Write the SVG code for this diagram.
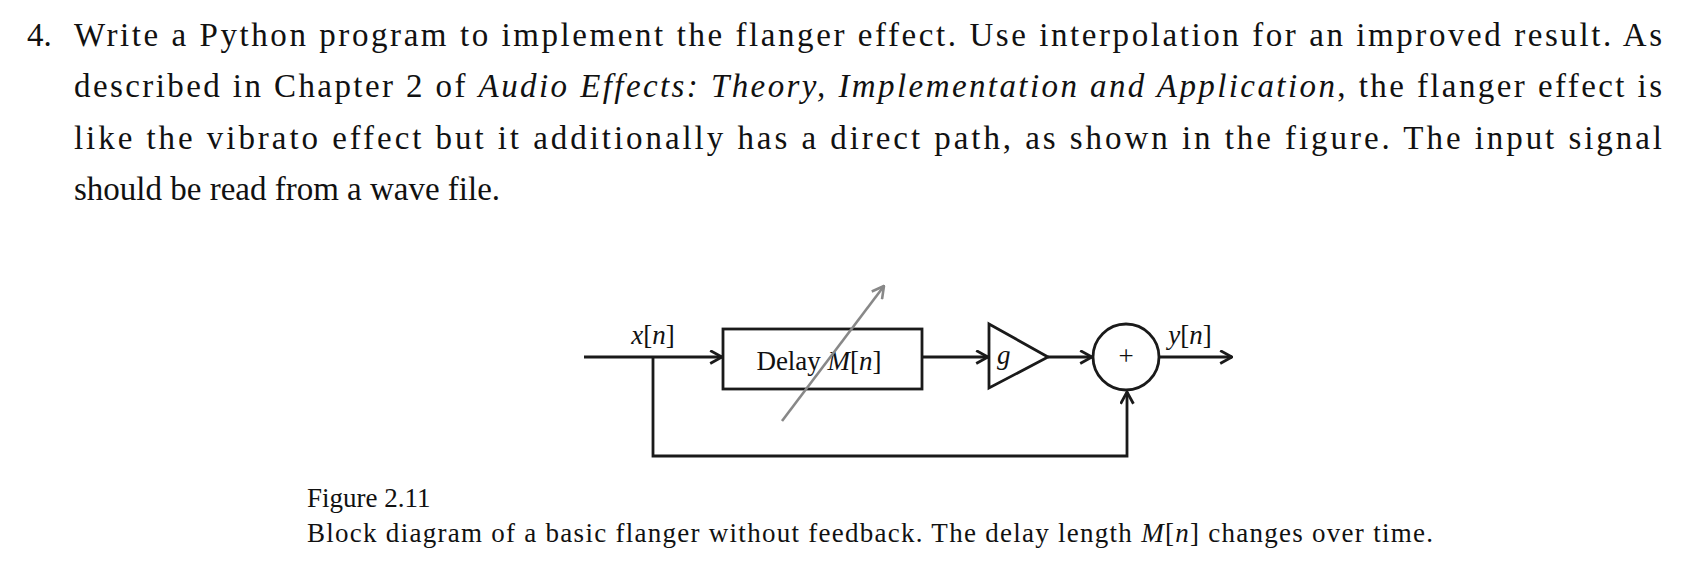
<svg xmlns="http://www.w3.org/2000/svg" width="1698" height="584" viewBox="0 0 1698 584">
<style>
.t{font-family:"Liberation Serif",serif;font-size:33px;fill:#111}
.d{font-family:"Liberation Serif",serif;font-size:27px;fill:#111}
.c{font-family:"Liberation Serif",serif;font-size:27px;fill:#111}
.w{fill:none;stroke:#1a1a1a;stroke-width:2.8}
</style>
<defs>
<marker id="a" viewBox="0 0 14 14" refX="13" refY="7" markerWidth="15" markerHeight="15" markerUnits="userSpaceOnUse" orient="auto"><path d="M2,1 L13,7 L2,13" fill="none" stroke="#1a1a1a" stroke-width="2.6"/></marker>
<marker id="g" viewBox="0 0 14 14" refX="13" refY="7" markerWidth="15" markerHeight="15" markerUnits="userSpaceOnUse" orient="auto"><path d="M2,1 L13,7 L2,13" fill="none" stroke="#888" stroke-width="2.4"/></marker>
</defs>
<rect width="1698" height="584" fill="#fff"/>
<g id="question">
<text class="t" x="27" y="46">4.</text>
<text class="t" x="74" y="46" textLength="1588" lengthAdjust="spacing">Write a Python program to implement the flanger effect. Use interpolation for an improved result. As</text>
<text class="t" x="74" y="97" textLength="1588" lengthAdjust="spacing">described in Chapter 2 of <tspan font-style="italic">Audio Effects: Theory, Implementation and Application</tspan>, the flanger effect is</text>
<text class="t" x="74" y="149" textLength="1588" lengthAdjust="spacing">like the vibrato effect but it additionally has a direct path, as shown in the figure. The input signal</text>
<text class="t" x="74" y="200">should be read from a wave file.</text>
</g>
<g id="connectors">
<path class="w" d="M584,357 H722" marker-end="url(#a)"/>
<path class="w" d="M922,357 H988" marker-end="url(#a)"/>
<path class="w" d="M1048,357 H1092" marker-end="url(#a)"/>
<path class="w" d="M1160,357 H1232" marker-end="url(#a)"/>
<path class="w" d="M653,357 V456 H1127 V392" marker-end="url(#a)"/>
</g>
<g id="delay">
<rect class="w" x="723" y="329" width="199" height="60"/>
<text class="d" x="819" y="370" text-anchor="middle">Delay <tspan font-style="italic">M</tspan>[<tspan font-style="italic">n</tspan>]</text>
<path d="M782,421 L884,286" stroke="#888" stroke-width="2.6" fill="none" marker-end="url(#g)"/>
</g>
<g id="gain">
<path class="w" d="M989,324 L1048,357 L989,388 Z"/>
<text class="d" x="997" y="364" font-style="italic">g</text>
</g>
<g id="sum">
<circle class="w" cx="1126" cy="357" r="33"/>
<text class="d" x="1126" y="365" text-anchor="middle" font-size="21">+</text>
</g>
<g id="labels">
<text class="d" x="653" y="344" text-anchor="middle"><tspan font-style="italic">x</tspan>[<tspan font-style="italic">n</tspan>]</text>
<text class="d" x="1190" y="344" text-anchor="middle"><tspan font-style="italic">y</tspan>[<tspan font-style="italic">n</tspan>]</text>
</g>
<g id="caption">
<text class="c" x="307" y="507">Figure 2.11</text>
<text class="c" x="307" y="542" textLength="1126" lengthAdjust="spacing">Block diagram of a basic flanger without feedback. The delay length <tspan font-style="italic">M</tspan>[<tspan font-style="italic">n</tspan>] changes over time.</text>
</g>
</svg>
